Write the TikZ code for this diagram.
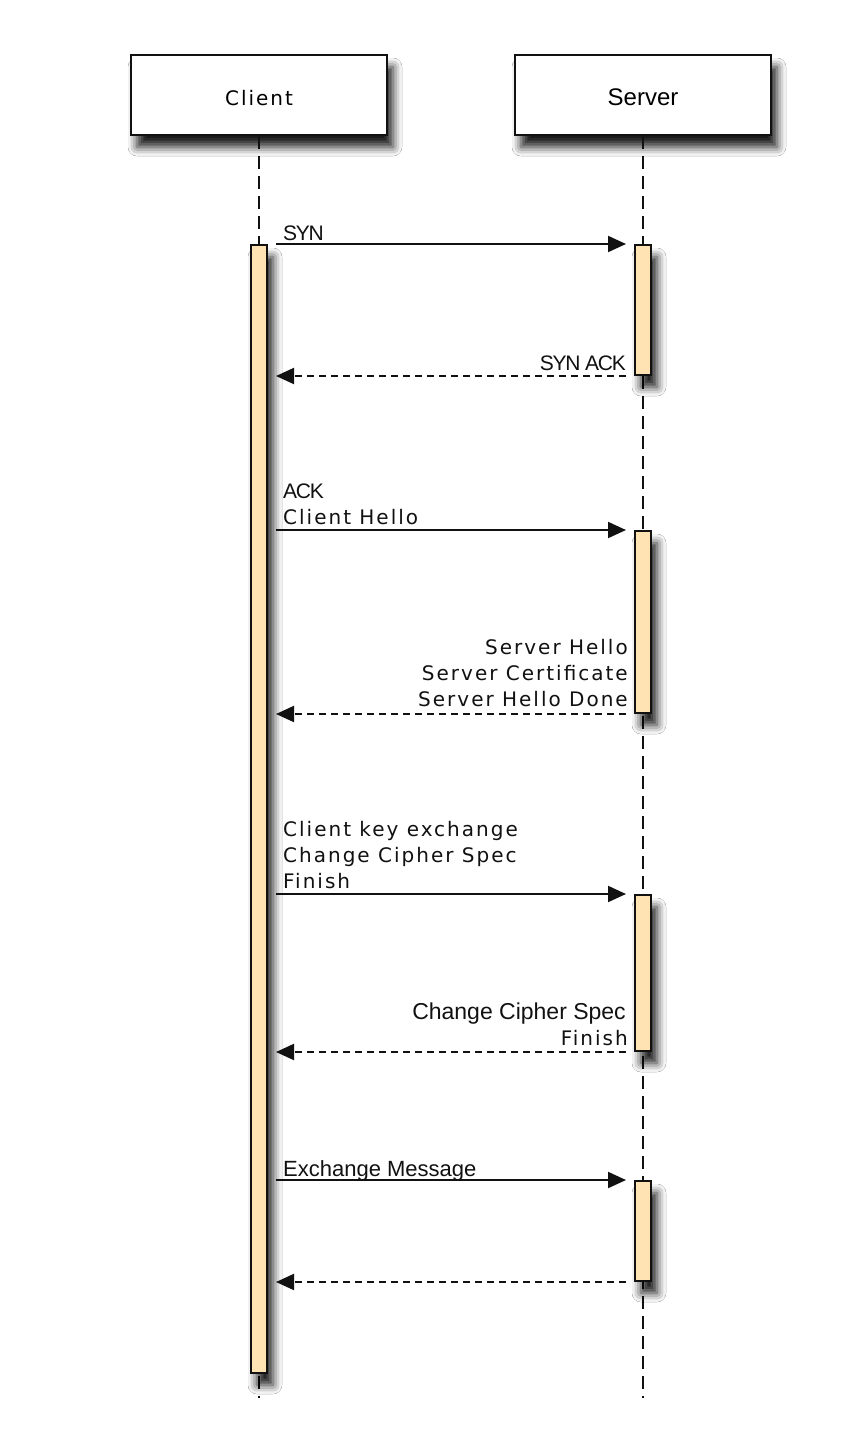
\documentclass[tikz,border=0pt]{standalone}
\usepackage{fontspec}
\setmainfont{Liberation Sans}
\newfontfamily\widefont[LetterSpace=10]{DejaVu Sans}
\newfontfamily\tightfont[LetterSpace=-6]{Liberation Sans}
\usetikzlibrary{arrows.meta,shadows.blur}
\definecolor{ink}{HTML}{111111}
\definecolor{barfill}{HTML}{FFE3B3}
\newcommand{\widesz}{\widefont\fontsize{20}{26}\selectfont}
\newcommand{\tightsz}{\tightfont\fontsize{21}{26}\selectfont}
\newcommand{\plainsz}{\normalfont\fontsize{23}{26}\selectfont}

\begin{document}
\begin{tikzpicture}[x=1pt,y=-1pt,>={Triangle[length=18pt,width=16pt]},
    actor/.style={draw=ink,line width=2pt,fill=white,
      minimum width=256pt,minimum height=80pt,text height=20pt,text depth=0pt,
      blur shadow={shadow xshift=6pt,shadow yshift=-12pt,
        shadow blur radius=9pt,shadow opacity=90}},
    bar/.style={draw=ink,line width=2pt,fill=barfill,
      minimum width=16pt,inner sep=0pt,
      blur shadow={shadow xshift=6pt,shadow yshift=-12pt,
        shadow blur radius=9pt,shadow opacity=90}},
    life/.style={ink,line width=1.8pt,dash pattern=on 13pt off 7pt},
    call/.style={->,ink,line width=2pt,shorten <=8pt,shorten >=8pt},
    reply/.style={call,dash pattern=on 7pt off 5pt},
    lbl/.style={inner sep=0pt,font=\widesz,text=ink}]
  \useasboundingbox[fill=white] (0,0) rectangle (856,1430);

  % participants and their lifelines
  \node[actor,font=\widesz] (client) at (259,95) {Client};
  \node[actor,font=\normalfont\fontsize{24}{26}\selectfont] (server) at (643,95) {Server};
  \coordinate (bottom) at (0,1398);
  \draw[life] (client) -- (client |- bottom);
  \draw[life] (server) -- (server |- bottom);

  % activation bars
  \node[bar,minimum height=1128pt] (cbar) at (259,809) {};
  \node[bar,minimum height=130pt] (sbar1) at (643,310) {};
  \node[bar,minimum height=182pt] (sbar2) at (643,622) {};
  \node[bar,minimum height=156pt] (sbar3) at (643,973) {};
  \node[bar,minimum height=100pt] (sbar4) at (643,1231) {};

  % TCP handshake
  \draw[call] (cbar.east |- sbar1.north) -- (sbar1.north west);
  \node[lbl,font=\tightsz,anchor=base west] (syn) at (283,240) {SYN};
  \draw[reply] (sbar1.south west) -- (cbar.east |- sbar1.south);
  \node[lbl,font=\tightsz,anchor=base east] (synack) at (626,370) {SYN ACK};

  % TLS hello
  \draw[call] (cbar.east |- sbar2.north) -- (sbar2.north west);
  \node[lbl,align=left,anchor=south west] (hello) at (283,525)
    {{\tightsz ACK}\\Client Hello};
  \draw[reply] (sbar2.south west) -- (cbar.east |- sbar2.south);
  \node[lbl,align=right,anchor=south east] (cert) at (628,707)
    {Server Hello\\Server Certificate\\Server Hello Done};

  % key exchange
  \draw[call] (cbar.east |- sbar3.north) -- (sbar3.north west);
  \node[lbl,align=left,anchor=south west] (keyx) at (283,889)
    {Client key exchange\\Change Cipher Spec\\Finish};
  \draw[reply] (sbar3.south west) -- (cbar.east |- sbar3.south);
  \node[lbl,align=right,anchor=south east] (finish) at (628,1046)
    {{\plainsz Change Cipher Spec\kern2pt}\\Finish};

  % application data
  \draw[call] (cbar.east |- sbar4.north) -- (sbar4.north west);
  \node[lbl,font=\normalfont\fontsize{22}{26}\selectfont,anchor=base west] (data)
    at (283,1176) {Exchange Message};
  \draw[reply] (sbar4.south west) -- (cbar.east |- sbar4.south);
\end{tikzpicture}
\end{document}
